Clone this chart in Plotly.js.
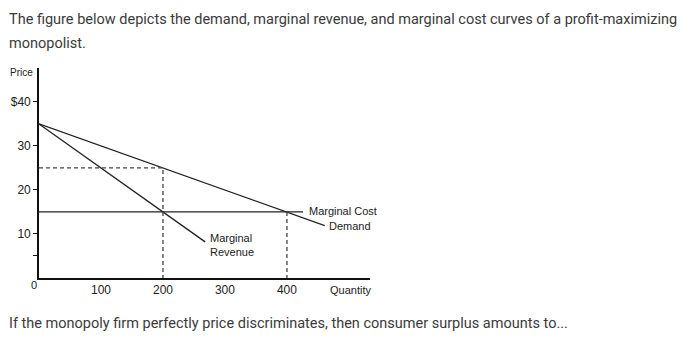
<!DOCTYPE html>
<html>
<head>
<meta charset="utf-8">
<script src="https://cdn.plot.ly/plotly-3.0.1.min.js"></script>
<style>
html,body{margin:0;padding:0;background:#fff;}
#chart{width:697px;height:346px;}
</style>
</head>
<body>
<div id="chart"></div>
<script>
// Data
const demandQ = [0, 400, 461];
const demandP = [35, 15, 11.9];
const mrQ = [0, 200, 268];
const mrP = [35, 15, 8.2];
const mcQ = [0, 426];
const mcP = [15, 15];
const guideMonoQ = [0, 200, 200];
const guideMonoP = [25, 25, 0];
const guideCompQ = [400, 400];
const guideCompP = [15, 0];
const yTickVals = [5, 10, 20, 30, 40];
const yTickText = ['', '10', '20', '30', '$40'];
const xTickVals = [100, 200, 300, 400];
const xTickText = ['100', '200', '300', '400'];

const lineColor = '#222';
const fontFam = 'Liberation Sans, Arial, sans-serif';
const PW = 331, PH = 210;

const traces = [
  {x: demandQ, y: demandP, mode: 'lines', line: {color: lineColor, width: 1.3}, hoverinfo: 'skip'},
  {x: mrQ, y: mrP, mode: 'lines', line: {color: lineColor, width: 1.3}, hoverinfo: 'skip'},
  {x: mcQ, y: mcP, mode: 'lines', line: {color: lineColor, width: 1.3}, hoverinfo: 'skip'},
  {x: guideMonoQ, y: guideMonoP, mode: 'lines', line: {color: '#444', width: 1.3, dash: '4px,3px'}, hoverinfo: 'skip'},
  {x: guideCompQ, y: guideCompP, mode: 'lines', line: {color: '#444', width: 1.3, dash: '4px,3px'}, hoverinfo: 'skip'}
];

const bodyFont = {family: 'Roboto, sans-serif', size: 14.5, color: '#3a3a3a'};
const lblFont = {family: fontFam, size: 11, color: '#222'};

function px(xp) { return (xp - 39) / PW; }
function py(yp) { return (278 - yp) / PH; }

const layout = {
  width: 697, height: 346,
  margin: {l: 39, r: 327, t: 68, b: 68},
  paper_bgcolor: '#fff', plot_bgcolor: '#fff',
  showlegend: false,
  xaxis: {
    range: [0, 534], showgrid: false, zeroline: false,
    showline: true, linecolor: '#111', linewidth: 1.8,
    tickvals: xTickVals, ticktext: xTickText, ticks: '',
    tickfont: {family: fontFam, size: 12, color: '#222'},
    fixedrange: true
  },
  yaxis: {
    range: [0, 47.7], showgrid: false, zeroline: false,
    showline: true, linecolor: '#111', linewidth: 1.8,
    tickvals: yTickVals, ticktext: yTickText, ticks: 'outside', ticklen: 4, tickcolor: '#111',
    tickfont: {family: fontFam, size: 12, color: '#222'},
    fixedrange: true
  },
  annotations: [
    {xref: 'paper', yref: 'paper', x: px(7), y: py(20), xanchor: 'left', yanchor: 'middle', showarrow: false,
     text: 'The figure below depicts the demand, marginal revenue, and marginal cost curves of a profit-maximizing', font: bodyFont},
    {xref: 'paper', yref: 'paper', x: px(7), y: py(43), xanchor: 'left', yanchor: 'middle', showarrow: false,
     text: 'monopolist.', font: bodyFont},
    {xref: 'paper', yref: 'paper', x: px(7), y: py(323), xanchor: 'left', yanchor: 'middle', showarrow: false,
     text: 'If the monopoly firm perfectly price discriminates, then consumer surplus amounts to...', font: bodyFont},
    {xref: 'paper', yref: 'paper', x: px(8), y: py(72), xanchor: 'left', yanchor: 'middle', showarrow: false,
     text: 'Price', font: {family: fontFam, size: 10, color: '#222'}},
    {xref: 'paper', yref: 'paper', x: px(34), y: py(285), xanchor: 'center', yanchor: 'middle', showarrow: false,
     text: '0', font: {family: fontFam, size: 11, color: '#222'}},
    {xref: 'paper', yref: 'paper', x: px(350), y: py(290), xanchor: 'center', yanchor: 'middle', showarrow: false,
     text: 'Quantity', font: lblFont},
    {xref: 'x', yref: 'y', x: 433, y: 15.3, xanchor: 'left', yanchor: 'middle', showarrow: false,
     text: 'Marginal Cost', font: lblFont},
    {xref: 'x', yref: 'y', x: 464, y: 11.9, xanchor: 'left', yanchor: 'middle', showarrow: false,
     text: 'Demand', font: lblFont},
    {xref: 'x', yref: 'y', x: 272, y: 7.6, xanchor: 'left', yanchor: 'middle', showarrow: false,
     text: 'Marginal<br>Revenue', align: 'left', font: lblFont}
  ]
};

Plotly.newPlot('chart', traces, layout, {displayModeBar: false, staticPlot: true});
</script>
</body>
</html>
